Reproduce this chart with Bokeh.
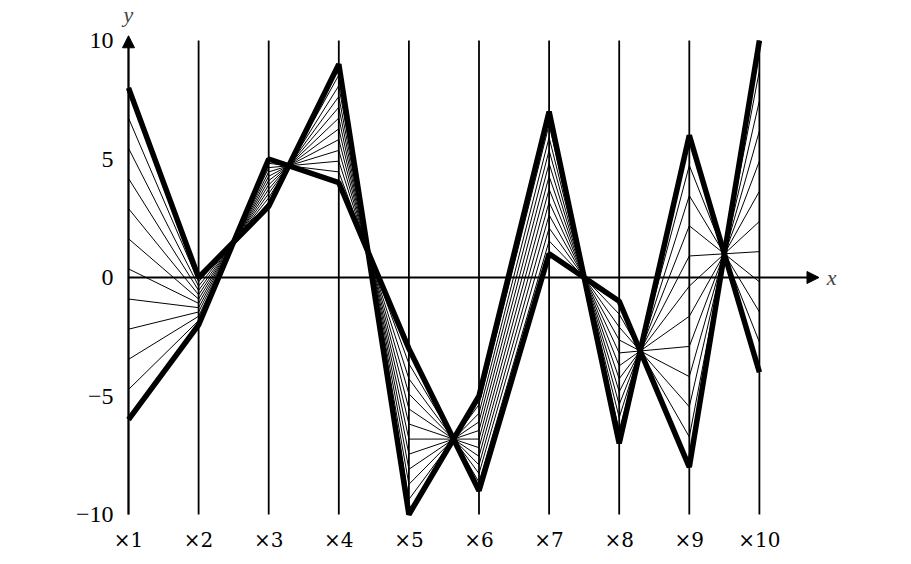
from bokeh.plotting import figure
from bokeh.models import Range1d, FixedTicker, ColumnDataSource, Arrow, NormalHead, Label
from bokeh.embed import file_html
from bokeh.resources import INLINE

# ---------------- data ----------------
AXIS_NAMES = ["×1", "×2", "×3", "×4", "×5", "×6", "×7", "×8", "×9", "×10"]
AXIS_POS = [1, 2, 3, 4, 5, 6, 7, 8, 9, 10]
LINE_A = [8, 0, 3, 9, -10, -5, 7, -7, 6, -4]
LINE_B = [-6, -2, 5, 4, -3, -9, 1, -1, -8, 10]
# blend weights of the thin lines between the two boundary lines
BLEND = [1/11, 2/11, 3/11, 4/11, 5/11, 6/11, 7/11, 8/11, 9/11, 10/11]
Y_TICKS = [-10, -5, 0, 5, 10]
Y_TICK_LABELS = ["−10", "−5", "0", "5", "10"]
Y_MIN, Y_MAX = -10, 10

# ---------------- layout ----------------
W, H = 895, 556
ML, MR, MT, MB = 114, 40, 0, 36
PX_X, PX_Y = 70.1, 23.7
frame_w, frame_h = W - ML - MR, H - MT - MB
x0 = 1 - 14 / PX_X
x1 = x0 + frame_w / PX_X
y_top = 277 / PX_Y
y_bot = y_top - frame_h / PX_Y

p = figure(width=W, height=H, output_backend="svg", toolbar_location=None,
           x_range=Range1d(x0, x1), y_range=Range1d(y_bot, y_top),
           min_border_left=ML, min_border_right=MR, min_border_top=MT, min_border_bottom=MB)
p.grid.visible = False
p.outline_line_color = None
p.background_fill_color = "white"

FONT = "Liberation Serif"
FS = "24px"

for ax in (p.xaxis[0], p.yaxis[0]):
    ax.axis_line_color = None
    ax.major_tick_line_color = None
    ax.minor_tick_line_color = None
    ax.major_tick_out = 0
    ax.major_tick_in = 0
    ax.minor_tick_out = 0
    ax.major_label_text_font = FONT
    ax.major_label_text_font_size = FS
    ax.major_label_text_color = "black"

p.xaxis.ticker = FixedTicker(ticks=AXIS_POS)
p.xaxis.major_label_overrides = {k: v for k, v in zip(AXIS_POS, AXIS_NAMES)}
p.xaxis.major_label_standoff = 7
p.xaxis.major_label_text_font = "DejaVu Serif"
p.xaxis.major_label_text_font_size = "20px"
p.yaxis.ticker = FixedTicker(ticks=Y_TICKS)
p.yaxis.major_label_overrides = {k: v for k, v in zip(Y_TICKS, Y_TICK_LABELS)}
p.yaxis.major_label_standoff = 1

# vertical parallel axes
p.segment(x0=AXIS_POS, y0=[Y_MIN] * len(AXIS_POS), x1=AXIS_POS, y1=[Y_MAX] * len(AXIS_POS),
          line_color="black", line_width=1.8)

# horizontal x axis with arrow
p.add_layout(Arrow(x_start=AXIS_POS[0], y_start=0, x_end=AXIS_POS[-1] + 0.85, y_end=0,
                   line_color="black", line_width=1.8,
                   end=NormalHead(size=12, fill_color="black", line_color="black")))
# y axis arrow
p.add_layout(Arrow(x_start=AXIS_POS[0], y_start=Y_MIN, x_end=AXIS_POS[0], y_end=Y_MAX + 0.2,
                   line_color="black", line_width=1.8,
                   end=NormalHead(size=12, fill_color="black", line_color="black")))

# thin interpolated lines
xs, ys = [], []
for w in BLEND:
    xs.append(AXIS_POS)
    ys.append([(1 - w) * a + w * b for a, b in zip(LINE_A, LINE_B)])
p.multi_line(xs="xs", ys="ys", source=ColumnDataSource(dict(xs=xs, ys=ys)),
             line_color="black", line_width=1)

# thick boundary lines
p.line(AXIS_POS, LINE_A, line_color="black", line_width=5.5)
p.line(AXIS_POS, LINE_B, line_color="black", line_width=5.5)

p.add_layout(Label(x=AXIS_POS[0], y=11.1, text="y", text_font=FONT, text_font_style="italic",
                   text_font_size="22px", text_align="center", text_baseline="middle"))
p.add_layout(Label(x=11.03, y=0, text="x", text_font=FONT, text_font_style="italic",
                   text_font_size="22px", text_align="center", text_baseline="middle"))

open("out.html", "w").write(file_html(p, INLINE))
